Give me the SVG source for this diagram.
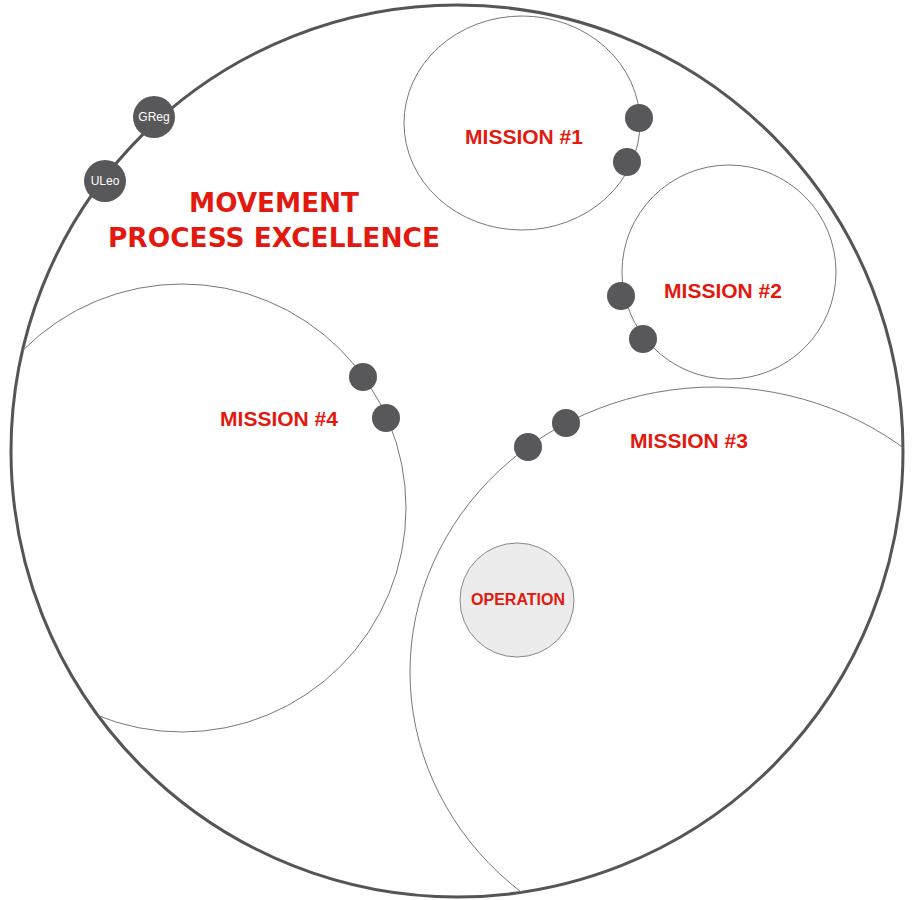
<svg xmlns="http://www.w3.org/2000/svg" width="915" height="900" viewBox="0 0 915 900">
<style>
.thin{fill:none;stroke:#777;stroke-width:1}
.dot{fill:#58585a}
.lbl{font-family:"Liberation Sans",Arial,sans-serif;font-weight:bold;fill:#e2190f;font-size:21px;text-anchor:middle}
.who{font-family:"Liberation Sans",Arial,sans-serif;fill:#fff;font-size:12px;text-anchor:middle}
.big{font-family:"DejaVu Sans",sans-serif;font-weight:bold;fill:#e2190f;font-size:27px;text-anchor:middle}
</style>
<defs><clipPath id="main"><circle cx="457" cy="451" r="446"/></clipPath></defs>
<rect width="915" height="900" fill="#fff"/>
<g id="outer"><circle cx="457" cy="451" r="446" fill="#fff" stroke="#555" stroke-width="3"/></g>
<g clip-path="url(#main)">
<g id="mission1"><ellipse class="thin" cx="522" cy="123" rx="118" ry="107"/><text class="lbl" x="524" y="144">MISSION #1</text></g>
<g id="mission2"><circle class="thin" cx="729" cy="272" r="107"/><text class="lbl" x="723" y="298">MISSION #2</text></g>
<g id="mission4"><circle class="thin" cx="182" cy="508" r="224"/><text class="lbl" x="279" y="426">MISSION #4</text></g>
<g id="mission3"><ellipse class="thin" cx="715" cy="672" rx="305" ry="285"/><text class="lbl" x="689" y="448">MISSION #3</text></g>
</g>
<g id="operation"><circle cx="517" cy="600" r="57" fill="#ebeceb" stroke="#888"/><text class="lbl" x="518" y="605" style="font-size:16px">OPERATION</text></g>
<g id="title"><text class="big" x="274" y="212" textLength="170" lengthAdjust="spacingAndGlyphs">MOVEMENT</text><text class="big" x="274" y="247" textLength="332" lengthAdjust="spacingAndGlyphs">PROCESS EXCELLENCE</text></g>
<g id="dots">
<circle class="dot" cx="639" cy="118" r="14"/><circle class="dot" cx="627" cy="162" r="14"/>
<circle class="dot" cx="621" cy="296" r="14"/><circle class="dot" cx="643" cy="339" r="14"/>
<circle class="dot" cx="363" cy="377" r="14"/><circle class="dot" cx="386" cy="418" r="14"/>
<circle class="dot" cx="528" cy="447" r="14"/><circle class="dot" cx="566" cy="423" r="14"/>
</g>
<g id="greg"><circle class="dot" cx="154" cy="117" r="21"/><text class="who" x="154" y="121">GReg</text></g>
<g id="uleo"><circle class="dot" cx="105" cy="181" r="21"/><text class="who" x="105" y="185">ULeo</text></g>
</svg>
